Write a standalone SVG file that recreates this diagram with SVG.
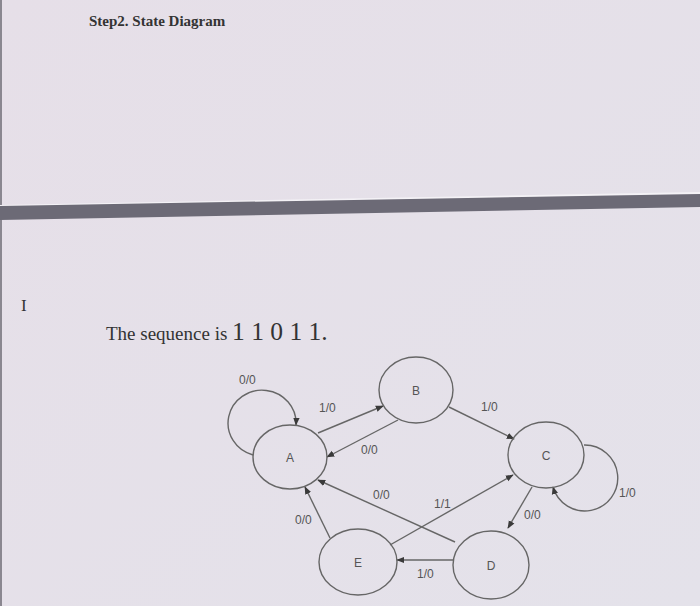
<svg xmlns="http://www.w3.org/2000/svg" width="700" height="606" viewBox="0 0 700 606">
<defs>
<marker id="arr" viewBox="0 0 10 10" refX="9" refY="5" markerWidth="8" markerHeight="8" orient="auto" markerUnits="userSpaceOnUse">
<path d="M0,1 L10,5 L0,9 z" fill="#3a3a3a"/>
</marker>
<linearGradient id="bg" x1="0" y1="0" x2="1" y2="1">
<stop offset="0" stop-color="#e6dfe8"/>
<stop offset="1" stop-color="#e4e2ea"/>
</linearGradient>
</defs>
<style>
.node{fill:none;stroke:#666;stroke-width:1.4}
.edge{fill:none;stroke:#666;stroke-width:1.4;marker-end:url(#arr)}
.lbl{font-family:"Liberation Sans",Arial,sans-serif;font-size:12px;fill:#555}
.nl{font-family:"Liberation Sans",Arial,sans-serif;font-size:12px;fill:#555;text-anchor:middle}
.serif{font-family:"Liberation Serif","Times New Roman",serif;fill:#333}
</style>
<rect x="0" y="0" width="700" height="606" fill="url(#bg)"/>
<rect x="0" y="0" width="2" height="606" fill="#8a8790"/>
<polygon points="0,205 700,192 700,194 0,207" fill="#f4f2f6"/>
<polygon points="0,206 700,194 700,207 0,220" fill="#6c6a76"/>
<text class="serif" x="89" y="26" font-size="15" font-weight="bold">Step2. State Diagram</text>
<text class="serif" x="21" y="311" font-size="17" fill="#666">I</text>
<text class="serif" x="106" y="340" font-size="19">The sequence is <tspan font-size="25.5">1 1 0 1 1.</tspan></text>
<g id="connectors">
<path class="edge" d="M253,455 A34,33 0 1 1 296,425"/>
<line class="edge" x1="318" y1="433" x2="383" y2="406"/>
<line class="edge" x1="398" y1="420" x2="327" y2="457"/>
<line class="edge" x1="449" y1="407" x2="514" y2="439"/>
<path class="edge" d="M584,445 A33,33 0 1 1 553,487"/>
<line class="edge" x1="532" y1="487" x2="508" y2="528"/>
<line class="edge" x1="390" y1="545" x2="513" y2="475"/>
<line class="edge" x1="455" y1="542" x2="318" y2="480"/>
<line class="edge" x1="330" y1="538" x2="305" y2="487"/>
<line class="edge" x1="453" y1="560" x2="397" y2="560"/>
<text class="lbl" x="239" y="384">0/0</text>
<text class="lbl" x="319" y="412">1/0</text>
<text class="lbl" x="361" y="454">0/0</text>
<text class="lbl" x="481" y="411">1/0</text>
<text class="lbl" x="619" y="497">1/0</text>
<text class="lbl" x="524" y="519">0/0</text>
<text class="lbl" x="434" y="508">1/1</text>
<text class="lbl" x="373" y="499">0/0</text>
<text class="lbl" x="295" y="524">0/0</text>
<text class="lbl" x="417" y="578">1/0</text>
</g>
<g id="A"><ellipse class="node" cx="290" cy="457" rx="37" ry="32"/><text class="nl" x="290" y="462">A</text></g>
<g id="B"><ellipse class="node" cx="416" cy="390" rx="37" ry="33"/><text class="nl" x="416" y="395">B</text></g>
<g id="C"><ellipse class="node" cx="546" cy="455" rx="38" ry="33"/><text class="nl" x="546" y="460">C</text></g>
<g id="D"><ellipse class="node" cx="491" cy="565" rx="38" ry="34"/><text class="nl" x="491" y="570">D</text></g>
<g id="E"><ellipse class="node" cx="358" cy="562" rx="39" ry="33"/><text class="nl" x="358" y="567">E</text></g>
</svg>
